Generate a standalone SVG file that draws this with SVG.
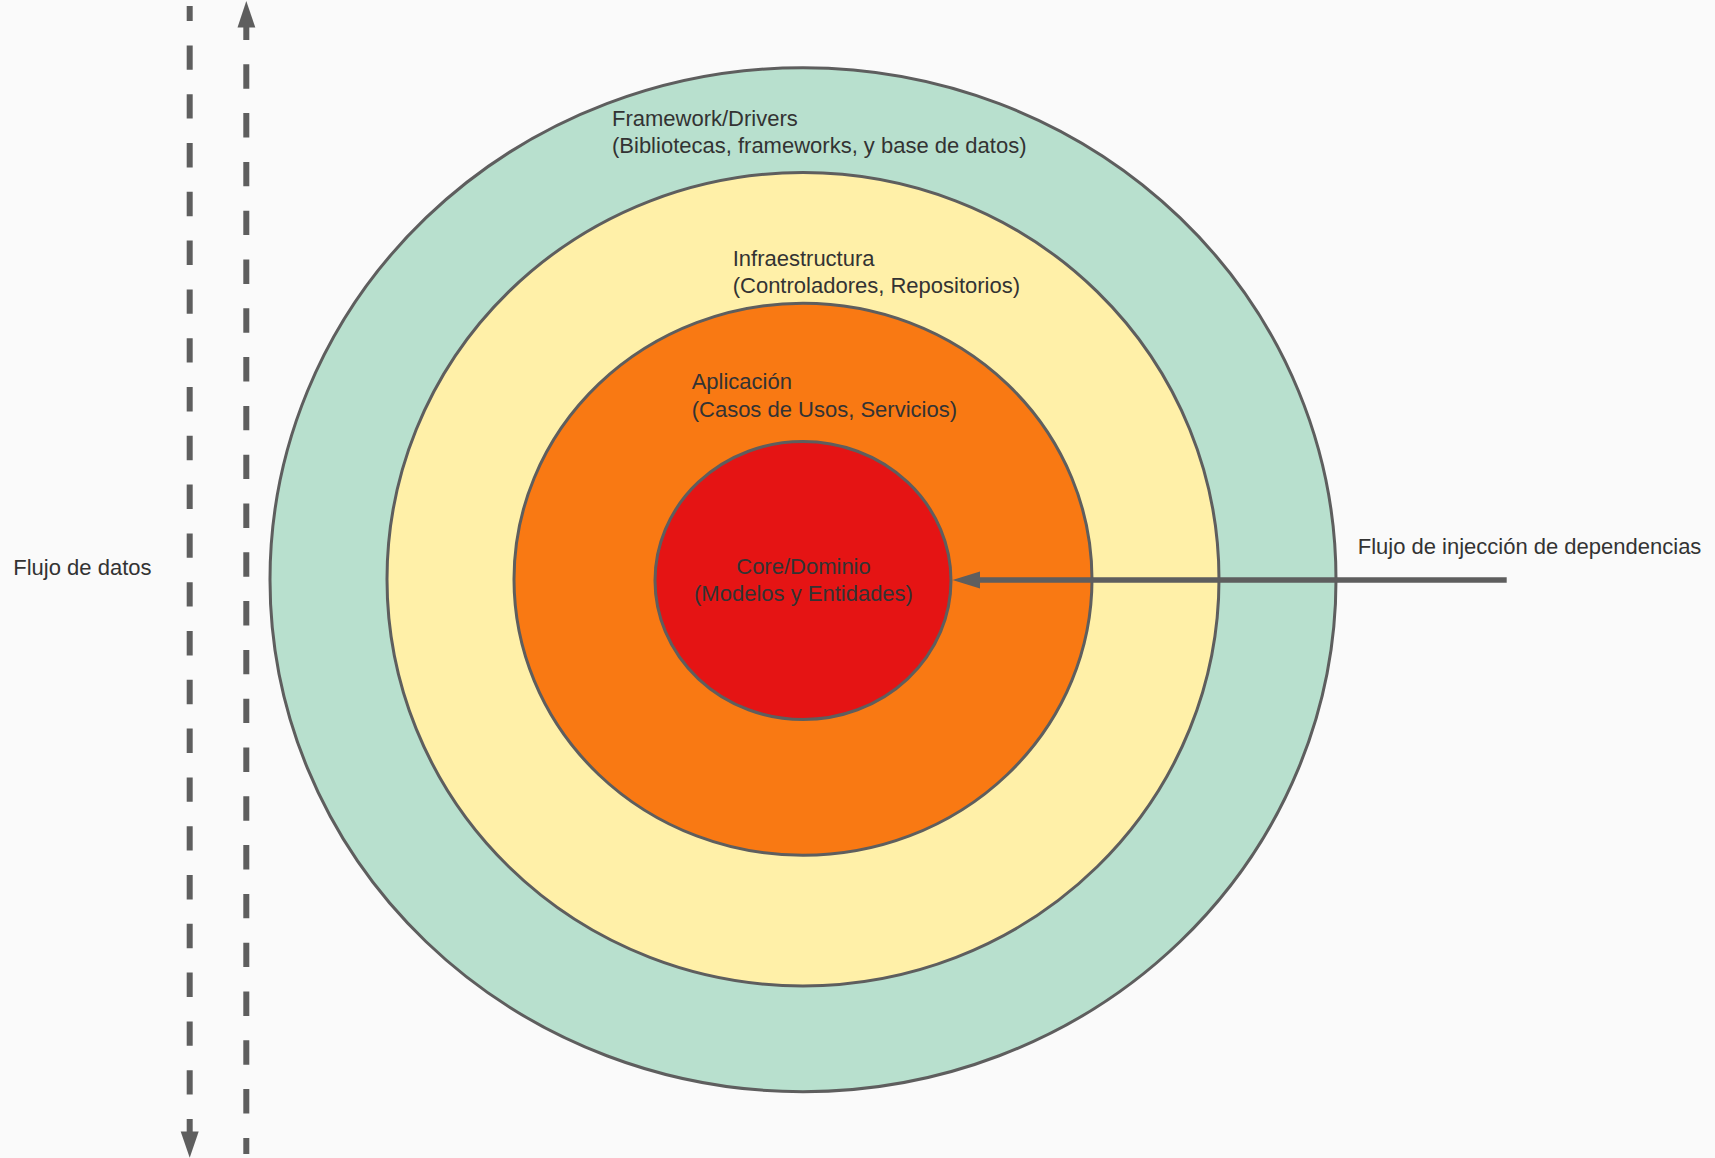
<svg xmlns="http://www.w3.org/2000/svg" width="1715" height="1158" viewBox="0 0 1715 1158">
<defs>
<style>
.ring{stroke:#5e5e5e;stroke-width:3}
.t{font-family:"Liberation Sans",Arial,sans-serif;font-size:22px;fill:#333333}
.dash{stroke:#5e5e5e;stroke-width:6;fill:none;stroke-dasharray:24.4 24.4}
.head{fill:#5e5e5e}
</style>
</defs>
<rect width="1715" height="1158" fill="#fafafa"/>
<g id="framework">
<ellipse class="ring" cx="803" cy="579.7" rx="533" ry="512" fill="#b8e0ce"/>
<text class="t" x="612" y="126">Framework/Drivers</text>
<text class="t" x="612" y="153.3">(Bibliotecas, frameworks, y base de datos)</text>
</g>
<g id="infraestructura">
<ellipse class="ring" cx="803" cy="579.2" rx="416" ry="406.7" fill="#fff0a8"/>
<text class="t" x="732.7" y="266">Infraestructura</text>
<text class="t" x="732.7" y="293.3">(Controladores, Repositorios)</text>
</g>
<g id="aplicacion">
<ellipse class="ring" cx="803" cy="579.3" rx="289" ry="276" fill="#f97913"/>
<text class="t" x="691.7" y="389.3">Aplicación</text>
<text class="t" x="691.7" y="416.7">(Casos de Usos, Servicios)</text>
</g>
<g id="core">
<ellipse class="ring" cx="803" cy="580.5" rx="148" ry="139" fill="#e51414"/>
<text class="t" x="803.5" y="574.3" text-anchor="middle">Core/Dominio</text>
<text class="t" x="803.5" y="600.7" text-anchor="middle">(Modelos y Entidades)</text>
</g>
<g id="labels">
<text class="t" x="13.3" y="575">Flujo de datos</text>
<text class="t" x="1357.7" y="554">Flujo de injección de dependencias</text>
</g>
<g id="connectors">
<line class="dash" x1="189.7" y1="6" x2="189.7" y2="1132" stroke-dashoffset="9.4"/>
<polygon class="head" points="180.7,1131.5 198.7,1131.5 189.7,1157.7"/>
<line class="dash" x1="246.3" y1="27" x2="246.3" y2="1154" stroke-dasharray="24.5 24.35" stroke-dashoffset="11.5"/>
<polygon class="head" points="237.5,27.5 255.3,27.5 246.3,1"/>
<line x1="979" y1="580" x2="1506.7" y2="580" stroke="#5e5e5e" stroke-width="5.3"/>
<polygon class="head" points="952.5,580 980,571.5 980,588.5"/>
</g>
</svg>
